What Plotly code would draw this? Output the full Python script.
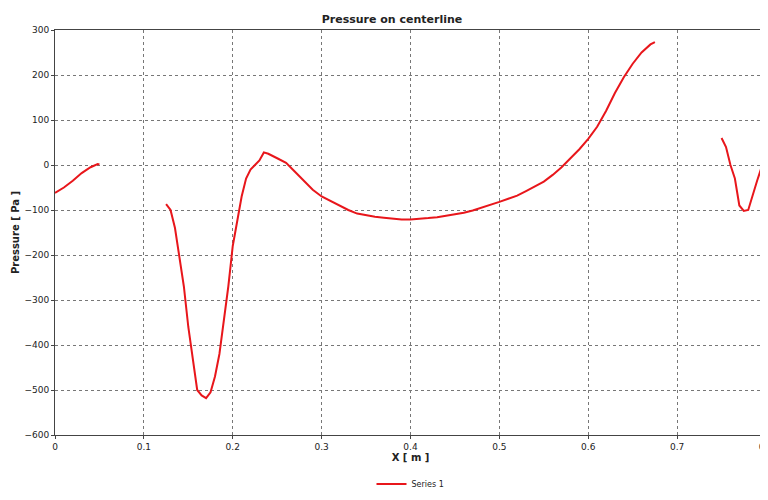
import plotly.graph_objects as go

# pressure along the centerline, three separate segments (None = gap)
x_m = [0, 0.01, 0.02, 0.03, 0.04, 0.048, 0.05, None,
       0.125, 0.13, 0.135, 0.14, 0.145, 0.15, 0.155, 0.16, 0.165, 0.17, 0.175, 0.18,
       0.185, 0.19, 0.195, 0.2, 0.205, 0.21, 0.215, 0.22, 0.225, 0.23, 0.235, 0.24,
       0.25, 0.26, 0.27, 0.28, 0.29, 0.3, 0.31, 0.32, 0.33, 0.34, 0.35, 0.36, 0.37,
       0.38, 0.39, 0.4, 0.41, 0.42, 0.43, 0.44, 0.45, 0.46, 0.47, 0.48, 0.49, 0.5,
       0.51, 0.52, 0.53, 0.54, 0.55, 0.56, 0.57, 0.58, 0.59, 0.6, 0.61, 0.62, 0.63,
       0.64, 0.65, 0.66, 0.67, 0.675, None,
       0.75, 0.755, 0.76, 0.765, 0.77, 0.775, 0.78, 0.785, 0.79, 0.795, 0.8]
p_pa = [-62, -50, -35, -18, -5, 2, 1, None,
        -87, -100, -140, -200, -270, -360, -430, -500, -512, -518, -505, -470,
        -420, -350, -270, -180, -120, -70, -30, -10, 0, 10, 28, 25,
        15, 5, -15, -35, -55, -70, -80, -90, -100, -108, -112, -115, -117,
        -119, -121, -121, -120, -118, -116, -113, -110, -106, -101, -95, -88, -82,
        -75, -68, -58, -48, -37, -22, -5, 15, 35, 58, 85, 120, 160,
        195, 225, 250, 268, 273, None,
        60, 40, 0, -30, -90, -102, -100, -65, -35, -5, 0]

fig = go.Figure()
fig.add_trace(go.Scatter(x=x_m, y=p_pa, mode="lines", name="Series 1",
                         line=dict(color="#e8161b", width=2), connectgaps=False))

grid = dict(showgrid=True, gridcolor="#777", griddash="dot", gridwidth=1,
            showline=True, linecolor="#444", mirror=True, zeroline=False,
            ticks="outside", ticklen=3, tickfont=dict(size=9), automargin=False)
fig.update_layout(
    width=768, height=500, plot_bgcolor="white", paper_bgcolor="white",
    font=dict(family="DejaVu Sans", color="#222", size=10),
    title=dict(text="<b>Pressure on centerline</b>", x=0.5, y=0.985, font=dict(size=11)),
    margin=dict(l=47, r=10, t=22, b=53),
    xaxis=dict(grid, range=[0, 0.8], dtick=0.1,
               title=dict(text="<b>X [ m ]</b>", font=dict(size=10), standoff=2)),
    yaxis=dict(grid, range=[-600, 300], dtick=100,
               title=dict(text="<b>Pressure [ Pa ]</b>", font=dict(size=10), standoff=2)),
    showlegend=True,
    legend=dict(orientation="h", x=0.5, xanchor="center", y=-0.085, yanchor="top",
                font=dict(size=8)),
)
fig.write_html("out.html")
